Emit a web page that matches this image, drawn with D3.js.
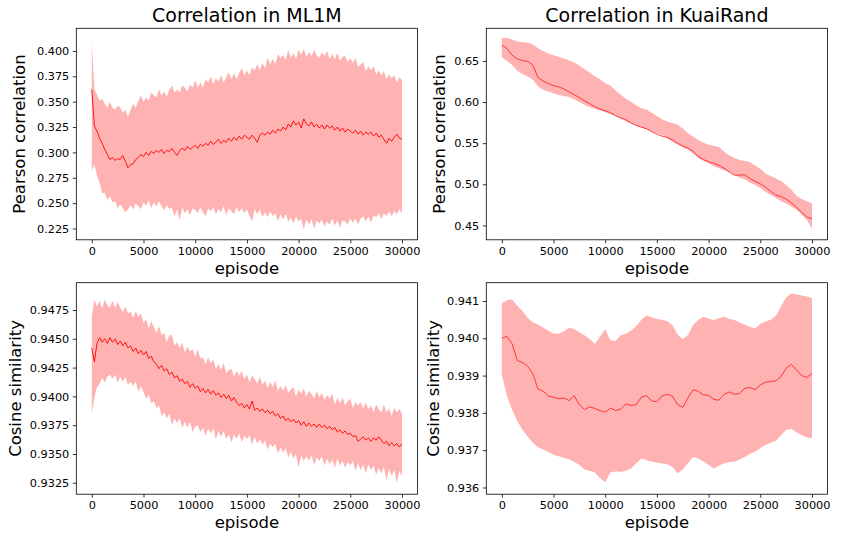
<!DOCTYPE html>
<html>
<head>
<meta charset="utf-8">
<script src="https://cdn.jsdelivr.net/npm/d3@7"></script>
<style>
  body { margin: 0; background: #fff; }
  text { font-family: "DejaVu Sans", sans-serif; }
</style>
</head>
<body>
<div id="canvas"></div>
<script>
"use strict";

/* Episode grids (ML1M logged every 250, KuaiRand every 500) */
let episodesFine = d3.range(0, 30001, 250);
let episodesCoarse = d3.range(0, 30001, 500);
let episodeTicks = [0, 5000, 10000, 15000, 20000, 25000, 30000];

/* ML1M - Pearson correlation */
let ml1mPearsonMean = [
  0.362, 0.326, 0.321, 0.314, 0.309, 0.303, 0.298, 0.293, 0.295, 0.292, 0.294, 0.293, 0.297, 0.291, 0.285, 0.288,
  0.289, 0.293, 0.295, 0.298, 0.296, 0.300, 0.297, 0.301, 0.299, 0.302, 0.300, 0.303, 0.299, 0.302, 0.301, 0.304,
  0.300, 0.297, 0.302, 0.304, 0.302, 0.306, 0.303, 0.305, 0.307, 0.304, 0.308, 0.306, 0.309, 0.307, 0.311, 0.308,
  0.310, 0.313, 0.309, 0.312, 0.310, 0.314, 0.311, 0.315, 0.312, 0.316, 0.313, 0.317, 0.315, 0.313, 0.317, 0.314,
  0.310, 0.317, 0.319, 0.317, 0.320, 0.318, 0.322, 0.319, 0.323, 0.321, 0.325, 0.322, 0.328, 0.325, 0.331, 0.327,
  0.330, 0.324, 0.333, 0.328, 0.326, 0.330, 0.325, 0.328, 0.324, 0.327, 0.323, 0.327, 0.324, 0.326, 0.322, 0.325,
  0.321, 0.324, 0.320, 0.323, 0.321, 0.319, 0.322, 0.318, 0.321, 0.317, 0.320, 0.318, 0.320, 0.316, 0.319, 0.315,
  0.317, 0.313, 0.309, 0.314, 0.311, 0.315, 0.318, 0.314, 0.313
];
let ml1mPearsonHigh = [
  0.409, 0.362, 0.357, 0.351, 0.353, 0.348, 0.344, 0.350, 0.344, 0.342, 0.346, 0.344, 0.339, 0.342, 0.335, 0.342,
  0.348, 0.344, 0.351, 0.356, 0.350, 0.354, 0.351, 0.359, 0.356, 0.354, 0.362, 0.356, 0.360, 0.355, 0.362, 0.366,
  0.359, 0.362, 0.359, 0.366, 0.364, 0.360, 0.367, 0.364, 0.371, 0.364, 0.369, 0.364, 0.372, 0.369, 0.375, 0.367,
  0.373, 0.370, 0.376, 0.369, 0.374, 0.379, 0.372, 0.378, 0.372, 0.378, 0.383, 0.376, 0.381, 0.376, 0.384, 0.381,
  0.387, 0.381, 0.388, 0.383, 0.393, 0.387, 0.392, 0.387, 0.397, 0.393, 0.396, 0.391, 0.401, 0.393, 0.398, 0.392,
  0.401, 0.396, 0.402, 0.394, 0.399, 0.395, 0.401, 0.396, 0.393, 0.399, 0.395, 0.400, 0.392, 0.397, 0.392, 0.398,
  0.390, 0.394, 0.395, 0.389, 0.393, 0.388, 0.393, 0.384, 0.387, 0.389, 0.380, 0.385, 0.381, 0.385, 0.377, 0.381,
  0.376, 0.380, 0.372, 0.377, 0.373, 0.376, 0.369, 0.374, 0.371
];
let ml1mPearsonLow = [
  0.282, 0.288, 0.277, 0.270, 0.260, 0.260, 0.253, 0.257, 0.251, 0.252, 0.245, 0.249, 0.245, 0.241, 0.244, 0.248,
  0.244, 0.250, 0.247, 0.244, 0.251, 0.247, 0.253, 0.245, 0.251, 0.247, 0.252, 0.247, 0.243, 0.248, 0.244, 0.246,
  0.237, 0.244, 0.233, 0.246, 0.240, 0.244, 0.238, 0.245, 0.243, 0.240, 0.246, 0.241, 0.237, 0.245, 0.242, 0.246,
  0.239, 0.244, 0.241, 0.247, 0.238, 0.245, 0.242, 0.239, 0.246, 0.241, 0.245, 0.240, 0.244, 0.237, 0.232, 0.244,
  0.239, 0.244, 0.236, 0.241, 0.236, 0.242, 0.237, 0.240, 0.232, 0.239, 0.234, 0.239, 0.232, 0.236, 0.230, 0.237,
  0.232, 0.235, 0.224, 0.234, 0.229, 0.234, 0.225, 0.233, 0.230, 0.234, 0.227, 0.232, 0.229, 0.235, 0.228, 0.233,
  0.226, 0.233, 0.232, 0.229, 0.235, 0.231, 0.235, 0.229, 0.235, 0.237, 0.232, 0.237, 0.231, 0.238, 0.236, 0.240,
  0.234, 0.240, 0.237, 0.242, 0.237, 0.242, 0.239, 0.244, 0.240
];
let ml1mPearsonTicks = [0.225, 0.250, 0.275, 0.300, 0.325, 0.350, 0.375, 0.400];

/* KuaiRand - Pearson correlation */
let kuaiPearsonMean = [
  0.6694, 0.6650, 0.6570, 0.6525, 0.6505, 0.6495, 0.6450, 0.6300, 0.6255, 0.6225, 0.6200, 0.6185, 0.6160, 0.6125,
  0.6090, 0.6055, 0.6015, 0.5980, 0.5945, 0.5915, 0.5895, 0.5870, 0.5835, 0.5805, 0.5785, 0.5745, 0.5715, 0.5695,
  0.5675, 0.5640, 0.5610, 0.5585, 0.5570, 0.5540, 0.5500, 0.5465, 0.5440, 0.5400, 0.5335, 0.5300, 0.5275, 0.5255,
  0.5230, 0.5195, 0.5150, 0.5110, 0.5112, 0.5115, 0.5070, 0.5035, 0.5005, 0.4965, 0.4915, 0.4870, 0.4850, 0.4820,
  0.4775, 0.4720, 0.4660, 0.4600, 0.4581
];
let kuaiPearsonHigh = [
  0.6775, 0.6783, 0.6760, 0.6738, 0.6728, 0.6723, 0.6700, 0.6654, 0.6620, 0.6592, 0.6570, 0.6550, 0.6530, 0.6508,
  0.6480, 0.6445, 0.6400, 0.6360, 0.6315, 0.6275, 0.6230, 0.6200, 0.6140, 0.6090, 0.6040, 0.6005, 0.5960, 0.5925,
  0.5910, 0.5870, 0.5830, 0.5790, 0.5765, 0.5745, 0.5723, 0.5680, 0.5621, 0.5580, 0.5540, 0.5505, 0.5480, 0.5470,
  0.5455, 0.5400, 0.5350, 0.5320, 0.5295, 0.5283, 0.5270, 0.5230, 0.5190, 0.5130, 0.5100, 0.5070, 0.5040, 0.4990,
  0.4935, 0.4860, 0.4820, 0.4795, 0.4771
];
let kuaiPearsonLow = [
  0.6545, 0.6500, 0.6450, 0.6380, 0.6340, 0.6310, 0.6270, 0.6190, 0.6150, 0.6127, 0.6105, 0.6085, 0.6075, 0.6063,
  0.6030, 0.6000, 0.5965, 0.5940, 0.5915, 0.5897, 0.5875, 0.5855, 0.5830, 0.5806, 0.5765, 0.5740, 0.5715, 0.5690,
  0.5668, 0.5645, 0.5620, 0.5598, 0.5560, 0.5515, 0.5485, 0.5450, 0.5419, 0.5375, 0.5320, 0.5285, 0.5255, 0.5220,
  0.5195, 0.5172, 0.5150, 0.5115, 0.5080, 0.5060, 0.5020, 0.4990, 0.4955, 0.4910, 0.4870, 0.4835, 0.4795, 0.4765,
  0.4730, 0.4690, 0.4630, 0.4570, 0.4455
];
let kuaiPearsonTicks = [0.45, 0.50, 0.55, 0.60, 0.65];

/* ML1M - cosine similarity */
let ml1mCosineMean = [
  0.9442, 0.9430, 0.9446, 0.9451, 0.9447, 0.9450, 0.9446, 0.9451, 0.9447, 0.9450, 0.9445, 0.9448, 0.9444, 0.9447,
  0.9442, 0.9444, 0.9439, 0.9442, 0.9437, 0.9440, 0.9436, 0.9439, 0.9433, 0.9435, 0.9430, 0.9428, 0.9424, 0.9427,
  0.9422, 0.9424, 0.9419, 0.9421, 0.9416, 0.9418, 0.9413, 0.9415, 0.9411, 0.9413, 0.9408, 0.9411, 0.9407, 0.9409,
  0.9404, 0.9407, 0.9403, 0.9406, 0.9402, 0.9405, 0.9401, 0.9403, 0.9399, 0.9402, 0.9398, 0.9401, 0.9396, 0.9399,
  0.9395, 0.9392, 0.9394, 0.9390, 0.9393, 0.9389, 0.9396, 0.9388, 0.9390, 0.9387, 0.9389, 0.9386, 0.9388, 0.9385,
  0.9387, 0.9383, 0.9385, 0.9381, 0.9383, 0.9379, 0.9381, 0.9378, 0.9380, 0.9377, 0.9379, 0.9375, 0.9378, 0.9374,
  0.9377, 0.9374, 0.9376, 0.9373, 0.9376, 0.9373, 0.9375, 0.9372, 0.9374, 0.9371, 0.9373, 0.9369, 0.9371, 0.9368,
  0.9370, 0.9367, 0.9368, 0.9365, 0.9366, 0.9361, 0.9363, 0.9365, 0.9362, 0.9364, 0.9361, 0.9364, 0.9362, 0.9365,
  0.9362, 0.9359, 0.9361, 0.9357, 0.9360, 0.9357, 0.9359, 0.9356, 0.9359
];
let ml1mCosineHigh = [
  0.9470, 0.9484, 0.9478, 0.9483, 0.9476, 0.9484, 0.9479, 0.9477, 0.9483, 0.9477, 0.9482, 0.9477, 0.9473, 0.9478,
  0.9472, 0.9474, 0.9468, 0.9474, 0.9469, 0.9472, 0.9464, 0.9467, 0.9459, 0.9465, 0.9460, 0.9455, 0.9461, 0.9453,
  0.9455, 0.9447, 0.9453, 0.9453, 0.9444, 0.9447, 0.9442, 0.9447, 0.9438, 0.9443, 0.9439, 0.9441, 0.9434, 0.9441,
  0.9433, 0.9434, 0.9428, 0.9434, 0.9429, 0.9432, 0.9424, 0.9428, 0.9423, 0.9429, 0.9420, 0.9423, 0.9424, 0.9417,
  0.9422, 0.9418, 0.9422, 0.9415, 0.9419, 0.9412, 0.9418, 0.9415, 0.9411, 0.9417, 0.9410, 0.9414, 0.9407, 0.9413,
  0.9408, 0.9414, 0.9405, 0.9409, 0.9405, 0.9410, 0.9403, 0.9406, 0.9408, 0.9400, 0.9406, 0.9402, 0.9407, 0.9400,
  0.9405, 0.9402, 0.9398, 0.9405, 0.9399, 0.9403, 0.9397, 0.9401, 0.9398, 0.9402, 0.9393, 0.9399, 0.9394, 0.9399,
  0.9392, 0.9396, 0.9398, 0.9390, 0.9395, 0.9392, 0.9395, 0.9389, 0.9395, 0.9389, 0.9392, 0.9386, 0.9393, 0.9389,
  0.9386, 0.9393, 0.9386, 0.9390, 0.9383, 0.9390, 0.9386, 0.9389, 0.9385
];
let ml1mCosineLow = [
  0.9385, 0.9399, 0.9408, 0.9411, 0.9416, 0.9412, 0.9417, 0.9419, 0.9415, 0.9419, 0.9412, 0.9417, 0.9413, 0.9417,
  0.9410, 0.9413, 0.9409, 0.9413, 0.9404, 0.9409, 0.9404, 0.9398, 0.9401, 0.9394, 0.9396, 0.9390, 0.9392, 0.9383,
  0.9386, 0.9381, 0.9385, 0.9375, 0.9381, 0.9377, 0.9381, 0.9373, 0.9378, 0.9373, 0.9378, 0.9369, 0.9374, 0.9375,
  0.9369, 0.9373, 0.9366, 0.9372, 0.9368, 0.9372, 0.9363, 0.9370, 0.9365, 0.9370, 0.9363, 0.9367, 0.9360, 0.9367,
  0.9363, 0.9368, 0.9360, 0.9366, 0.9363, 0.9366, 0.9358, 0.9365, 0.9359, 0.9363, 0.9358, 0.9362, 0.9354, 0.9359,
  0.9356, 0.9359, 0.9350, 0.9356, 0.9351, 0.9355, 0.9347, 0.9352, 0.9346, 0.9350, 0.9338, 0.9349, 0.9344, 0.9348,
  0.9344, 0.9349, 0.9340, 0.9347, 0.9344, 0.9348, 0.9340, 0.9346, 0.9341, 0.9345, 0.9338, 0.9346, 0.9340, 0.9344,
  0.9338, 0.9343, 0.9340, 0.9344, 0.9335, 0.9342, 0.9336, 0.9341, 0.9333, 0.9341, 0.9336, 0.9340, 0.9332, 0.9338,
  0.9333, 0.9339, 0.9327, 0.9337, 0.9331, 0.9336, 0.9325, 0.9335, 0.9331
];
let ml1mCosineTicks = [0.9325, 0.9350, 0.9375, 0.9400, 0.9425, 0.9450, 0.9475];

/* KuaiRand - cosine similarity */
let kuaiCosineMean = [
  0.94000, 0.94005, 0.93985, 0.93940, 0.93935, 0.93925, 0.93905, 0.93864, 0.93858, 0.93845, 0.93842, 0.93838,
  0.93840, 0.93833, 0.93846, 0.93822, 0.93809, 0.93816, 0.93812, 0.93806, 0.93802, 0.93813, 0.93806, 0.93810,
  0.93824, 0.93820, 0.93822, 0.93842, 0.93846, 0.93832, 0.93830, 0.93845, 0.93850, 0.93845, 0.93822, 0.93815,
  0.93840, 0.93862, 0.93858, 0.93848, 0.93847, 0.93836, 0.93834, 0.93850, 0.93856, 0.93850, 0.93852, 0.93866,
  0.93868, 0.93862, 0.93875, 0.93882, 0.93884, 0.93886, 0.93897, 0.93920, 0.93930, 0.93915, 0.93900, 0.93895,
  0.93906
];
let kuaiCosineHigh = [
  0.94094, 0.94102, 0.94104, 0.94087, 0.94073, 0.94055, 0.94043, 0.94036, 0.94029, 0.94020, 0.94013, 0.94012,
  0.94018, 0.94028, 0.94025, 0.94016, 0.94008, 0.93998, 0.93985, 0.94005, 0.94025, 0.93995, 0.93993, 0.94008,
  0.94012, 0.94020, 0.94032, 0.94050, 0.94062, 0.94056, 0.94052, 0.94050, 0.94046, 0.94035, 0.94010, 0.93998,
  0.94009, 0.94035, 0.94050, 0.94058, 0.94053, 0.94049, 0.94054, 0.94058, 0.94052, 0.94049, 0.94042, 0.94036,
  0.94030, 0.94027, 0.94038, 0.94045, 0.94050, 0.94060, 0.94085, 0.94110, 0.94120, 0.94118, 0.94115, 0.94112,
  0.94107
];
let kuaiCosineLow = [
  0.93902, 0.93845, 0.93808, 0.93778, 0.93755, 0.93737, 0.93720, 0.93708, 0.93702, 0.93695, 0.93688, 0.93684,
  0.93679, 0.93676, 0.93669, 0.93660, 0.93648, 0.93645, 0.93640, 0.93625, 0.93615, 0.93640, 0.93643, 0.93642,
  0.93645, 0.93651, 0.93665, 0.93678, 0.93673, 0.93669, 0.93667, 0.93664, 0.93662, 0.93655, 0.93638, 0.93648,
  0.93665, 0.93682, 0.93678, 0.93670, 0.93660, 0.93651, 0.93658, 0.93665, 0.93668, 0.93669, 0.93675, 0.93682,
  0.93690, 0.93696, 0.93706, 0.93714, 0.93720, 0.93725, 0.93740, 0.93755, 0.93757, 0.93748, 0.93740, 0.93735,
  0.93732
];
let kuaiCosineTicks = [0.936, 0.937, 0.938, 0.939, 0.940, 0.941];

/* SVG setup */
let svgWidth = 842;
let svgHeight = 540;

let svg = d3.select("#canvas")
  .append("svg")
  .attr("width", svgWidth)
  .attr("height", svgHeight);

let panels = [
  { left: 76.3, top: 28.3, title: "Correlation in ML1M", ylabel: "Pearson correlation", ylabelX: 20,
    x: episodesFine, mean: ml1mPearsonMean, low: ml1mPearsonLow, high: ml1mPearsonHigh,
    domain: [0.2139, 0.4223], ticks: ml1mPearsonTicks, fmt: ".3f", lw: 0.9 },
  { left: 486.3, top: 28.3, title: "Correlation in KuaiRand", ylabel: "Pearson correlation", ylabelX: 440,
    x: episodesCoarse, mean: kuaiPearsonMean, low: kuaiPearsonLow, high: kuaiPearsonHigh,
    domain: [0.4325, 0.6897], ticks: kuaiPearsonTicks, fmt: ".2f", lw: 0.7 },
  { left: 76.3, top: 282.7, title: null, ylabel: "Cosine similarity", ylabelX: 16,
    x: episodesFine, mean: ml1mCosineMean, low: ml1mCosineLow, high: ml1mCosineHigh,
    domain: [0.93151, 0.94987], ticks: ml1mCosineTicks, fmt: ".4f", lw: 0.9 },
  { left: 486.3, top: 282.7, title: null, ylabel: "Cosine similarity", ylabelX: 434,
    x: episodesCoarse, mean: kuaiCosineMean, low: kuaiCosineLow, high: kuaiCosineHigh,
    domain: [0.93582, 0.94149], ticks: kuaiCosineTicks, fmt: ".3f", lw: 0.7 }
];

let plotW = 341.2;
let plotH = 211.5;

function drawPanel(p) {
  let g = svg.append("g").attr("transform", "translate(" + p.left + "," + p.top + ")");

  let xScale = d3.scaleLinear().domain([-1500, 31500]).range([0, plotW]);
  let yScale = d3.scaleLinear().domain(p.domain).range([plotH, 0]);

  let rows = p.x.map(function (e, i) {
    return { e: e, mean: p.mean[i], low: p.low[i], high: p.high[i] };
  });

  // std band
  let area = d3.area()
    .x(function (d) { return xScale(d.e); })
    .y0(function (d) { return yScale(d.low); })
    .y1(function (d) { return yScale(d.high); });

  g.append("path")
    .datum(rows)
    .attr("d", area)
    .attr("fill", "#ffb2b2");

  // mean line
  let line = d3.line()
    .x(function (d) { return xScale(d.e); })
    .y(function (d) { return yScale(d.mean); });

  g.append("path")
    .datum(rows)
    .attr("d", line)
    .attr("fill", "none")
    .attr("stroke", "red")
    .attr("stroke-width", p.lw)
    .attr("stroke-linejoin", "round");

  // axes
  let xAxis = d3.axisBottom(xScale)
    .tickValues(episodeTicks)
    .tickFormat(d3.format("d"))
    .tickSize(3.5)
    .tickSizeOuter(0)
    .tickPadding(3.5);
  let yAxis = d3.axisLeft(yScale)
    .tickValues(p.ticks)
    .tickFormat(d3.format(p.fmt))
    .tickSize(3.5)
    .tickSizeOuter(0)
    .tickPadding(3.5);

  let gx = g.append("g").attr("transform", "translate(0," + plotH + ")").call(xAxis);
  let gy = g.append("g").call(yAxis);
  [gx, gy].forEach(function (a) {
    a.select(".domain").remove();
    a.selectAll("line").attr("stroke", "black").attr("stroke-width", 0.8);
    a.selectAll("text")
      .attr("fill", "black")
      .style("font-family", "DejaVu Sans")
      .style("font-size", "11.3px");
  });

  // frame
  g.append("rect")
    .attr("width", plotW)
    .attr("height", plotH)
    .attr("fill", "none")
    .attr("stroke", "black")
    .attr("stroke-width", 0.8);

  // labels
  g.append("text")
    .attr("x", plotW / 2)
    .attr("y", plotH + 34)
    .attr("text-anchor", "middle")
    .style("font-size", "16.5px")
    .text("episode");

  svg.append("text")
    .attr("transform", "translate(" + p.ylabelX + "," + (p.top + plotH / 2) + ") rotate(-90)")
    .attr("text-anchor", "middle")
    .attr("dominant-baseline", "middle")
    .style("font-size", "16.5px")
    .text(p.ylabel);

  if (p.title) {
    g.append("text")
      .attr("x", plotW / 2)
      .attr("y", -6)
      .attr("text-anchor", "middle")
      .style("font-size", "19px")
      .text(p.title);
  }
}

panels.forEach(drawPanel);
</script>
</body>
</html>
